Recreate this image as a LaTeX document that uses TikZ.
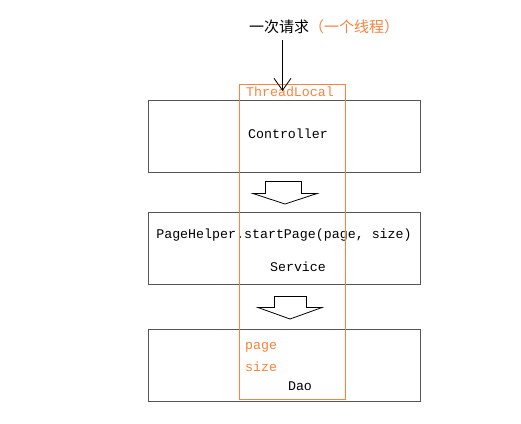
\documentclass[tikz,border=0pt]{standalone}
\usepackage{fontspec}
\setmonofont{Liberation Mono}
\newfontfamily\cjk{Noto Sans CJK SC}
\usetikzlibrary{arrows.meta}
\definecolor{tlorange}{RGB}{250,130,60}
\definecolor{boxgray}{RGB}{85,85,85}

\begin{document}
\begin{tikzpicture}
[
	x=1bp, y=-1bp,
	layer/.style={draw=boxgray,line width=1bp,fill=white,minimum width=272bp,inner sep=0pt},
	mono/.style={font=\fontsize{13.3bp}{15bp}\ttfamily,inner sep=0pt},
	hint/.style={mono,text=tlorange},
	blockarrow/.style={draw=black,line width=0.8bp,fill=white,line join=miter}
]

	\useasboundingbox (0,0) rectangle (521,423);

	% layers
	\node[layer,minimum height=72bp] at (284,136.5) (controller) {};
	\node[layer,minimum height=72bp] at (284,248.5) (service) {};
	\node[layer,minimum height=72bp] at (284,365.5) (dao) {};

	% texts
	\node[mono] at (288,134) (ctrltext) {Controller};
	\node[mono] at (284,235) (start) {PageHelper.startPage(page, size)};
	\node[mono] at (298,267) (srvtext) {Service};
	\node[hint,anchor=west] at (245,347) (page) {page};
	\node[hint,anchor=west] at (245,367) (size) {size};
	\node[mono] at (300,386) (daotext) {Dao};

	% block arrows
	\draw[blockarrow] (265.5,181.5) -- (301.5,181.5) -- (301.5,193.5) -- (317,193.5) -- (285,204)
		-- (253,193.5) -- (265.5,193.5) -- cycle;
	\draw[blockarrow] (274.5,296.5) -- (306.5,296.5) -- (306.5,307.5) -- (322,307.5) -- (290,319)
		-- (258,307.5) -- (274.5,307.5) -- cycle;

	% thread
	\draw[tlorange,line width=1.5bp] (239.5,84.5) rectangle (345.5,399.5);
	\node[hint] at (290,92) (tl) {ThreadLocal};

	% request
	\node[font=\fontsize{15bp}{17bp}\cjk,inner sep=0pt,anchor=west] at (249,27) (req)
		{一次请求\textcolor{tlorange}{（一个线程）}};
	\coordinate (reqend) at (282.5,91);
	\draw[-{Straight Barb[length=12bp,width=17bp]},line width=0.8bp] (req.south -| reqend) ++(0,6) -- (reqend);

\end{tikzpicture}
\end{document}
